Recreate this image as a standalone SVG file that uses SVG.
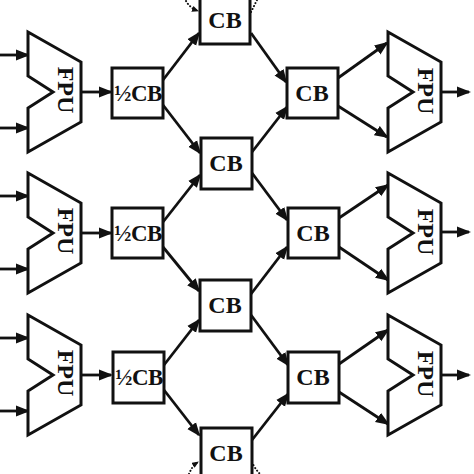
<svg xmlns="http://www.w3.org/2000/svg" width="474" height="474" viewBox="0 0 474 474">
<style>
.fpu{fill:#fff;stroke:#111;stroke-width:3;stroke-linejoin:miter}
.box{fill:#fff;stroke:#111;stroke-width:3}
.lbl{font-family:"Liberation Serif","Times New Roman",serif;font-weight:bold;font-size:24px;fill:#111;text-anchor:middle;dominant-baseline:central}
.half{font-size:23px;letter-spacing:-0.5px}
.flbl{font-size:24px}
.ln{stroke:#111;stroke-width:2.8;fill:none;marker-end:url(#ah)}
.dot{stroke:#111;stroke-width:2;fill:none;stroke-dasharray:0.1 3.2;stroke-linecap:round}
.dota{marker-end:url(#ahs)}
</style>
<defs>
<marker id="ah" markerUnits="userSpaceOnUse" markerWidth="14" markerHeight="12" viewBox="0 0 14 12" refX="12" refY="6" orient="auto">
<path d="M0,0.5 L14,6 L0,11.5 Z" fill="#111"/>
</marker>
<marker id="ahs" markerUnits="userSpaceOnUse" markerWidth="7" markerHeight="6" viewBox="0 0 7 6" refX="6" refY="3" orient="auto">
<path d="M0,0 L7,3 L0,6 Z" fill="#111"/>
</marker>
<path id="fpushape" d="M28,-60 L81,-30 L81,30 L28,60 L28,16 L53,0 L28,-16 Z"/>
</defs>
<g id="connectors">
<line class="ln" x1="0" y1="55" x2="28" y2="55"/>
<line class="ln" x1="0" y1="128" x2="28" y2="128"/>
<line class="ln" x1="0" y1="196" x2="28" y2="196"/>
<line class="ln" x1="0" y1="269" x2="28" y2="269"/>
<line class="ln" x1="0" y1="338" x2="28" y2="338"/>
<line class="ln" x1="0" y1="411" x2="28" y2="411"/>
<line class="ln" x1="81" y1="92" x2="111" y2="92"/>
<line class="ln" x1="81" y1="233" x2="111" y2="233"/>
<line class="ln" x1="81" y1="375" x2="111" y2="375"/>
<line class="ln" x1="163" y1="80" x2="199" y2="33"/>
<line class="ln" x1="163" y1="105" x2="200" y2="153"/>
<line class="ln" x1="163" y1="222" x2="200" y2="175"/>
<line class="ln" x1="163" y1="247" x2="199" y2="291"/>
<line class="ln" x1="164" y1="365" x2="199" y2="320"/>
<line class="ln" x1="164" y1="390" x2="199" y2="435"/>
<line class="ln" x1="251" y1="33" x2="286" y2="82"/>
<line class="ln" x1="252" y1="152" x2="287" y2="107"/>
<line class="ln" x1="252" y1="173" x2="287" y2="220"/>
<line class="ln" x1="251" y1="294" x2="287" y2="247"/>
<line class="ln" x1="251" y1="315" x2="288" y2="365"/>
<line class="ln" x1="252" y1="440" x2="288" y2="394"/>
<line class="ln" x1="338" y1="78" x2="387" y2="43"/>
<line class="ln" x1="338" y1="106" x2="387" y2="137"/>
<line class="ln" x1="339" y1="218" x2="388" y2="185"/>
<line class="ln" x1="339" y1="247" x2="388" y2="280"/>
<line class="ln" x1="339" y1="364" x2="388" y2="330"/>
<line class="ln" x1="339" y1="392" x2="388" y2="424"/>
<line class="ln" x1="441" y1="92" x2="469" y2="92"/>
<line class="ln" x1="441" y1="232" x2="469" y2="232"/>
<line class="ln" x1="441" y1="375" x2="469" y2="375"/>
<path class="dot dota" d="M186,1 Q190,8 198,11"/>
<path class="dot" d="M251,12 Q254,6 257,0"/>
<path class="dot dota" d="M189,474 Q192,466 198,462"/>
<path class="dot" d="M252,462 Q255,469 260,474"/>
</g>
<g id="fpu-l1" transform="translate(0,92)"><use href="#fpushape" class="fpu"/><text class="lbl flbl" transform="translate(66,-2) rotate(90)">FPU</text></g>
<g id="fpu-l2" transform="translate(0,233)"><use href="#fpushape" class="fpu"/><text class="lbl flbl" transform="translate(66,-2) rotate(90)">FPU</text></g>
<g id="fpu-l3" transform="translate(0,375)"><use href="#fpushape" class="fpu"/><text class="lbl flbl" transform="translate(66,-2) rotate(90)">FPU</text></g>
<g id="hcb1"><rect class="box" x="112" y="68" width="51" height="50"/><text class="lbl half" x="138" y="93">½CB</text></g>
<g id="hcb2"><rect class="box" x="112" y="208" width="51" height="50"/><text class="lbl half" x="138" y="233">½CB</text></g>
<g id="hcb3"><rect class="box" x="113" y="352" width="51" height="51"/><text class="lbl half" x="139" y="377">½CB</text></g>
<g id="cb0"><rect class="box" x="200" y="-7" width="50" height="51"/><text class="lbl" x="225" y="20">CB</text></g>
<g id="cb1"><rect class="box" x="201" y="138" width="51" height="51"/><text class="lbl" x="226" y="163">CB</text></g>
<g id="cb2"><rect class="box" x="200" y="280" width="51" height="51"/><text class="lbl" x="225" y="305">CB</text></g>
<g id="cb3"><rect class="box" x="201" y="428" width="51" height="51"/><text class="lbl" x="226" y="453">CB</text></g>
<g id="rcb1"><rect class="box" x="287" y="68" width="51" height="50"/><text class="lbl" x="312" y="93">CB</text></g>
<g id="rcb2"><rect class="box" x="288" y="208" width="51" height="50"/><text class="lbl" x="313" y="233">CB</text></g>
<g id="rcb3"><rect class="box" x="288" y="352" width="51" height="51"/><text class="lbl" x="313" y="377">CB</text></g>
<g id="fpu-r1" transform="translate(360,92)"><use href="#fpushape" class="fpu"/><text class="lbl flbl" transform="translate(66,-1) rotate(90)">FPU</text></g>
<g id="fpu-r2" transform="translate(360,233)"><use href="#fpushape" class="fpu"/><text class="lbl flbl" transform="translate(66,-1) rotate(90)">FPU</text></g>
<g id="fpu-r3" transform="translate(360,375)"><use href="#fpushape" class="fpu"/><text class="lbl flbl" transform="translate(66,-1) rotate(90)">FPU</text></g>
</svg>
